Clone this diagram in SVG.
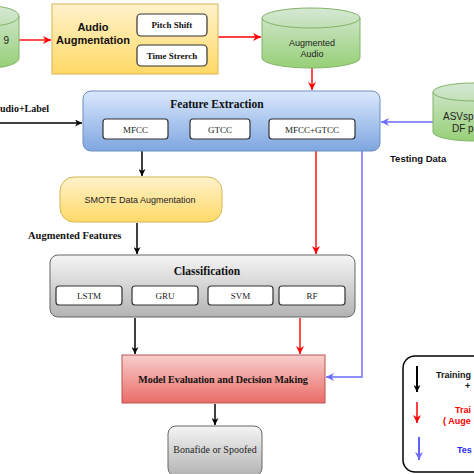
<svg xmlns="http://www.w3.org/2000/svg" width="474" height="474" viewBox="0 0 474 474">
<style>
.serifb{font-family:"Liberation Serif","Times New Roman",serif;font-weight:bold;fill:#111}
.serif{font-family:"Liberation Serif","Times New Roman",serif;fill:#222}
.sans{font-family:"Liberation Sans",Arial,sans-serif;fill:#222}
.sansb{font-family:"Liberation Sans",Arial,sans-serif;font-weight:bold;fill:#111}
.inner{fill:#fff;stroke:#333;stroke-width:1.2}
.blk{stroke:#000;stroke-width:1.5;fill:none}
.red{stroke:#ff0000;stroke-width:1.4;fill:none}
.blu{stroke:#6b6bff;stroke-width:1.4;fill:none}
</style>
<defs>
<linearGradient id="gGreen" x1="0" y1="0" x2="0" y2="1"><stop offset="0" stop-color="#d5e8d4"/><stop offset="1" stop-color="#97d077"/></linearGradient>
<linearGradient id="gYellow" x1="0" y1="0" x2="0" y2="1"><stop offset="0" stop-color="#fff2cc"/><stop offset="1" stop-color="#ffd966"/></linearGradient>
<linearGradient id="gBlue" x1="0" y1="0" x2="0" y2="1"><stop offset="0" stop-color="#dae8fc"/><stop offset="1" stop-color="#7ea6e0"/></linearGradient>
<linearGradient id="gGray" x1="0" y1="0" x2="0" y2="1"><stop offset="0" stop-color="#f5f5f5"/><stop offset="1" stop-color="#b3b3b3"/></linearGradient>
<linearGradient id="gRed" x1="0" y1="0" x2="0" y2="1"><stop offset="0" stop-color="#f8cecc"/><stop offset="1" stop-color="#ea6b66"/></linearGradient>
<marker id="aBlk" viewBox="0 0 10 10" refX="10" refY="5" markerWidth="7" markerHeight="7" markerUnits="userSpaceOnUse" orient="auto"><path d="M0,0 L10,5 L0,10 L3,5 Z" fill="#000"/></marker>
<marker id="aRed" viewBox="0 0 10 10" refX="10" refY="5" markerWidth="8" markerHeight="8" markerUnits="userSpaceOnUse" orient="auto"><path d="M0,0 L10,5 L0,10 L3,5 Z" fill="#ff0000"/></marker>
<marker id="aBlu" viewBox="0 0 10 10" refX="10" refY="5" markerWidth="8" markerHeight="8" markerUnits="userSpaceOnUse" orient="auto"><path d="M0,0 L10,5 L0,10 L3,5 Z" fill="#6b6bff"/></marker>
</defs>
<rect width="474" height="474" fill="#fff"/>

<g id="connectors">
<path class="red" d="M19,40 H51" marker-end="url(#aRed)"/>
<path class="red" d="M218,37 H261" marker-end="url(#aRed)"/>
<path class="red" d="M312,68 V90" marker-end="url(#aRed)"/>
<path class="blk" d="M0,123 H82" marker-end="url(#aBlk)"/>
<path class="blu" d="M433,122 H381" marker-end="url(#aBlu)"/>
<path class="blk" d="M142,151 V176" marker-end="url(#aBlk)"/>
<path class="red" d="M316,150 V254" marker-end="url(#aRed)"/>
<path class="blu" d="M362,150 V377 H326" marker-end="url(#aBlu)"/>
<path class="blk" d="M137,223 V254" marker-end="url(#aBlk)"/>
<path class="blk" d="M135,318 V354" marker-end="url(#aBlk)"/>
<path class="red" d="M300,318 V354" marker-end="url(#aRed)"/>
<path class="blk" d="M215,404 V425" marker-end="url(#aBlk)"/>
</g>

<g id="asvspoof2019">
<path d="M-40,16 A29.5,10 0 0 1 19,16 V58 A29.5,10 0 0 1 -40,58 Z" fill="url(#gGreen)" stroke="#82b366"/>
<path d="M-40,16 A29.5,10 0 0 0 19,16" fill="none" stroke="#82b366"/>
<text class="sans" x="9" y="44" font-size="10" text-anchor="end">9</text>
</g>

<g id="audio-augmentation">
<rect x="52" y="4" width="166" height="70" fill="url(#gYellow)" stroke="#d6b656"/>
<text class="sansb" x="93" y="31" font-size="11" text-anchor="middle">Audio</text>
<text class="sansb" x="93" y="44" font-size="11" text-anchor="middle">Augmentation</text>
<rect class="inner" x="137" y="14" width="70" height="22" rx="4"/>
<text class="serifb" x="172" y="28" font-size="9" text-anchor="middle">Pitch Shift</text>
<rect class="inner" x="137" y="45" width="70" height="21" rx="4"/>
<text class="serifb" x="172" y="58.5" font-size="9" text-anchor="middle">Time Strerch</text>
</g>

<g id="augmented-audio">
<path d="M262,18 A49,10 0 0 1 360,18 V58 A49,10 0 0 1 262,58 Z" fill="url(#gGreen)" stroke="#82b366"/>
<path d="M262,18 A49,10 0 0 0 360,18" fill="none" stroke="#82b366"/>
<text class="sans" x="312" y="46" font-size="9" text-anchor="middle">Augmented</text>
<text class="sans" x="312" y="56.5" font-size="9" text-anchor="middle">Audio</text>
</g>

<g id="audio-label">
<text class="serifb" x="0" y="112" font-size="10">udio+Label</text>
</g>

<g id="feature-extraction">
<rect x="83" y="91" width="297" height="60" rx="8" fill="url(#gBlue)" stroke="#6c8ebf"/>
<text class="serifb" x="217" y="108" font-size="11.5" text-anchor="middle">Feature Extraction</text>
<rect class="inner" x="103" y="119" width="65" height="20" rx="3"/>
<text class="serif" x="135.5" y="132.5" font-size="9" text-anchor="middle">MFCC</text>
<rect class="inner" x="190" y="119" width="60" height="20" rx="3"/>
<text class="serif" x="220" y="132.5" font-size="9" text-anchor="middle">GTCC</text>
<rect class="inner" x="269" y="119" width="86" height="20" rx="3"/>
<text class="serif" x="312" y="132.5" font-size="9" text-anchor="middle">MFCC+GTCC</text>
</g>

<g id="asvspoof-df">
<path d="M433,92 A40,9 0 0 1 513,92 V132 A40,9 0 0 1 433,132 Z" fill="url(#gGreen)" stroke="#82b366"/>
<path d="M433,92 A40,9 0 0 0 513,92" fill="none" stroke="#82b366"/>
<text class="sans" x="443" y="120" font-size="10">ASVsp</text>
<text class="sans" x="452" y="132" font-size="10">DF p</text>
</g>

<g id="testing-data">
<text class="sansb" x="390" y="161.5" font-size="9.5">Testing Data</text>
</g>

<g id="smote">
<rect x="60" y="177" width="162" height="45" rx="14" fill="url(#gYellow)" stroke="#d6b656"/>
<text class="sans" x="140" y="203" font-size="9" text-anchor="middle">SMOTE Data Augmentation</text>
</g>

<g id="augmented-features">
<text class="serifb" x="28" y="238.5" font-size="10.5">Augmented Features</text>
</g>

<g id="classification">
<rect x="50" y="255" width="305" height="62" rx="8" fill="url(#gGray)" stroke="#666"/>
<text class="serifb" x="207" y="275" font-size="11.5" text-anchor="middle">Classification</text>
<rect class="inner" x="56" y="286" width="66" height="19" rx="3"/>
<text class="serif" x="89" y="298.5" font-size="9" text-anchor="middle">LSTM</text>
<rect class="inner" x="132" y="286" width="66" height="19" rx="3"/>
<text class="serif" x="165" y="298.5" font-size="9" text-anchor="middle">GRU</text>
<rect class="inner" x="208" y="286" width="65" height="19" rx="3"/>
<text class="serif" x="240.5" y="298.5" font-size="9" text-anchor="middle">SVM</text>
<rect class="inner" x="279" y="286" width="66" height="19" rx="3"/>
<text class="serif" x="312" y="298.5" font-size="9" text-anchor="middle">RF</text>
</g>

<g id="model-evaluation">
<rect x="122" y="355" width="203" height="48" fill="url(#gRed)" stroke="#b85450"/>
<text class="serifb" x="223" y="383" font-size="10" text-anchor="middle">Model Evaluation and Decision Making</text>
</g>

<g id="bonafide">
<rect x="168" y="426" width="94" height="50" rx="8" fill="url(#gGray)" stroke="#666"/>
<text class="serif" x="215" y="453" font-size="10" text-anchor="middle">Bonafide or Spoofed</text>
</g>

<g id="legend">
<rect x="403" y="356" width="100" height="116" rx="12" fill="#fff" stroke="#000" stroke-width="1.5"/>
<path d="M417,366 V392" stroke="#000" stroke-width="2" fill="none" marker-end="url(#aBlk)"/>
<path d="M417,402 V423" stroke="#ff0000" stroke-width="1.5" fill="none" marker-end="url(#aRed)"/>
<path d="M419,437 V460" stroke="#2b2bff" stroke-width="1.5" fill="none" marker-end="url(#aBlu)"/>
<text class="sansb" x="436" y="378" font-size="9">Training</text>
<text class="sansb" x="465" y="389" font-size="9">+</text>
<text class="sansb" x="455" y="413" font-size="9" style="fill:#ff0000">Trai</text>
<text class="sansb" x="443" y="424" font-size="9" style="fill:#ff0000">( Auge</text>
<text class="sansb" x="457" y="453" font-size="9" style="fill:#2b2bff">Tes</text>
</g>
</svg>
